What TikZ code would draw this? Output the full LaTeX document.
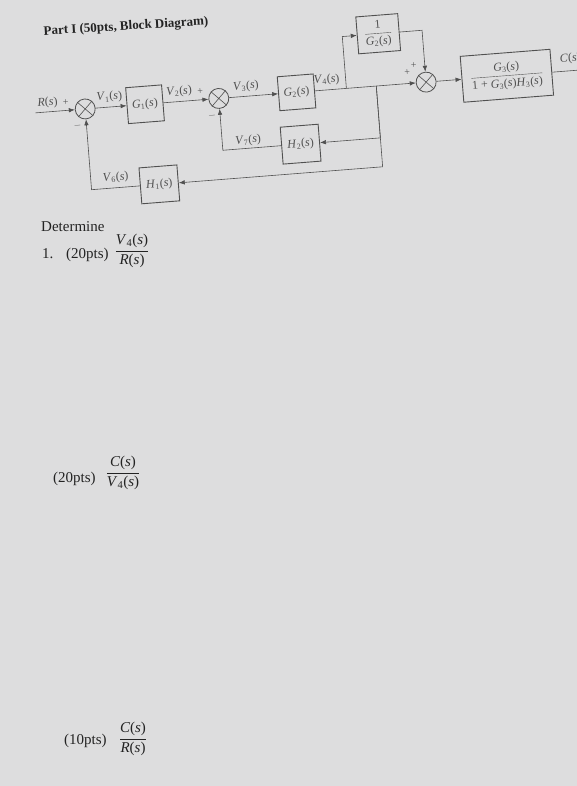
\documentclass[tikz,border=0pt]{standalone}
\usepackage{fontspec}
\setmainfont{Liberation Serif}
\usetikzlibrary{arrows.meta}
\newcommand{\fnv}[2]{\textit{#1}\textsubscript{#2}(\textit{s})}
\newcommand{\fns}[1]{\textit{#1}(\textit{s})}
\definecolor{paper}{RGB}{221,221,222}
\definecolor{ink}{RGB}{80,80,80}
\definecolor{dark}{RGB}{35,35,35}
\begin{document}
\begin{tikzpicture}[x=1pt,y=1pt,
  blk/.style={draw=ink, line width=0.9pt, minimum width=36pt, minimum height=36pt, inner sep=1pt, font=\fontsize{12}{14}\selectfont, text=ink},
  sumj/.style={draw=ink, circle, line width=0.8pt, minimum size=20pt, inner sep=0pt},
  sig/.style={draw=ink, line width=0.6pt},
  arr/.style={sig, -{Latex[length=6pt,width=4.5pt]}},
  lbl/.style={text=ink, font=\fontsize{12}{14}\selectfont, inner sep=0pt},
  sgn/.style={text=ink, font=\fontsize{10}{12}\selectfont, inner sep=0pt},
  qtxt/.style={text=dark, font=\fontsize{15}{18}\selectfont, inner sep=0pt}]
\fill[paper] (0,0) rectangle (577,-786);
\useasboundingbox (0,0) rectangle (577,-786);

\node[rotate=3.5, text=dark, font=\bfseries\fontsize{13}{15}\selectfont, inner sep=0pt] (title) at (126,-27) {Part I (50pts, Block Diagram)};

\begin{scope}[rotate around={4.5:(250,-100)}, transform shape]
  \coordinate (in) at (35,-96);
  \node[sumj] (s1) at (85,-96) {};
  \node[blk] (g1) at (145,-96) {\fnv{G}{1}};
  \node[sumj] (s2) at (219,-96) {};
  \node[blk, minimum height=34pt] (g2) at (297,-96) {\fnv{G}{2}};
  \coordinate (b1) at (347,-96);
  \coordinate (b2) at (377,-96);
  \node[blk, minimum width=42pt, minimum height=37pt] (g2inv) at (383,-44) {$\displaystyle\frac{\mbox{1}}{\mbox{\fnv{G}{2}}}$};
  \node[sumj] (s3) at (427,-96) {};
  \node[blk, minimum width=90pt, minimum height=46pt] (big) at (508,-96) {$\displaystyle\frac{\mbox{\fnv{G}{3}}}{\mbox{1 + \fnv{G}{3}\fnv{H}{3}}}$};
  \coordinate (out) at (600,-96);
  \node[blk, minimum width=38pt, minimum height=37pt] (h2) at (297,-148) {\fnv{H}{2}};
  \node[blk, minimum width=38pt, minimum height=36pt] (h1) at (153,-177) {\fnv{H}{1}};

  \foreach \s in {s1,s2,s3}
    \draw[sig] (\s.north east) -- (\s.south west) (\s.north west) -- (\s.south east);

  \draw[arr] (in) -- (s1.west);
  \draw[arr] (s1.east) -- (g1.west);
  \draw[arr] (g1.east) -- (s2.west);
  \draw[arr] (s2.east) -- (g2.west);
  \draw[arr] (g2.east) -- (s3.west);
  \draw[arr] (b1) |- (g2inv.west);
  \draw[arr] (g2inv.east) -| (s3.north);
  \draw[arr] (s3.east) -- (big.west);
  \draw[sig] (big.east) -- (out);
  \draw[arr] (b2) |- (h2.east);
  \draw[arr] (b2) |- (h1.east);
  \draw[arr] (h2.west) -| (s2.south);
  \draw[arr] (h1.west) -| (s1.south);

  \node[lbl] (lr) at (48,-87) {\fns{R}};
  \node[sgn] (p1) at (66,-88) {+};
  \node[sgn] (m1) at (76,-112) {$-$};
  \node[lbl] (lv1) at (110,-86) {\fnv{V}{1}};
  \node[lbl] (lv2) at (180,-86) {\fnv{V}{2}};
  \node[sgn] (p2) at (201,-88) {+};
  \node[sgn] (m2) at (211,-113) {$-$};
  \node[lbl] (lv3) at (247,-86) {\fnv{V}{3}};
  \node[lbl] (lv4) at (328,-86) {\fnv{V}{4}};
  \node[sgn] (p3a) at (416,-78) {+};
  \node[sgn] (p3b) at (409,-85) {+};
  \node[lbl] (lv7) at (245,-140) {\fnv{V}{7}};
  \node[lbl] (lv6) at (110,-167) {\fnv{V}{6}};
  \node[lbl, anchor=west] (lc) at (562,-84) {\fns{C}};
\end{scope}

\node[qtxt, anchor=base west] (det) at (41,-231) {Determine};
\node[qtxt, anchor=base west] (q1n) at (42,-258) {1.};
\node[qtxt, anchor=base west] (q1p) at (66,-258) {(20pts)};
\node[qtxt] (q1f) at (132,-251) {$\displaystyle\frac{\mbox{\fnv{V}{4}}}{\mbox{\fns{R}}}$};
\node[qtxt, anchor=base west] (q2p) at (53,-482) {(20pts)};
\node[qtxt] (q2f) at (123,-473) {$\displaystyle\frac{\mbox{\fns{C}}}{\mbox{\fnv{V}{4}}}$};
\node[qtxt, anchor=base west] (q3p) at (64,-744) {(10pts)};
\node[qtxt] (q3f) at (133,-739) {$\displaystyle\frac{\mbox{\fns{C}}}{\mbox{\fns{R}}}$};
\end{tikzpicture}
\end{document}
